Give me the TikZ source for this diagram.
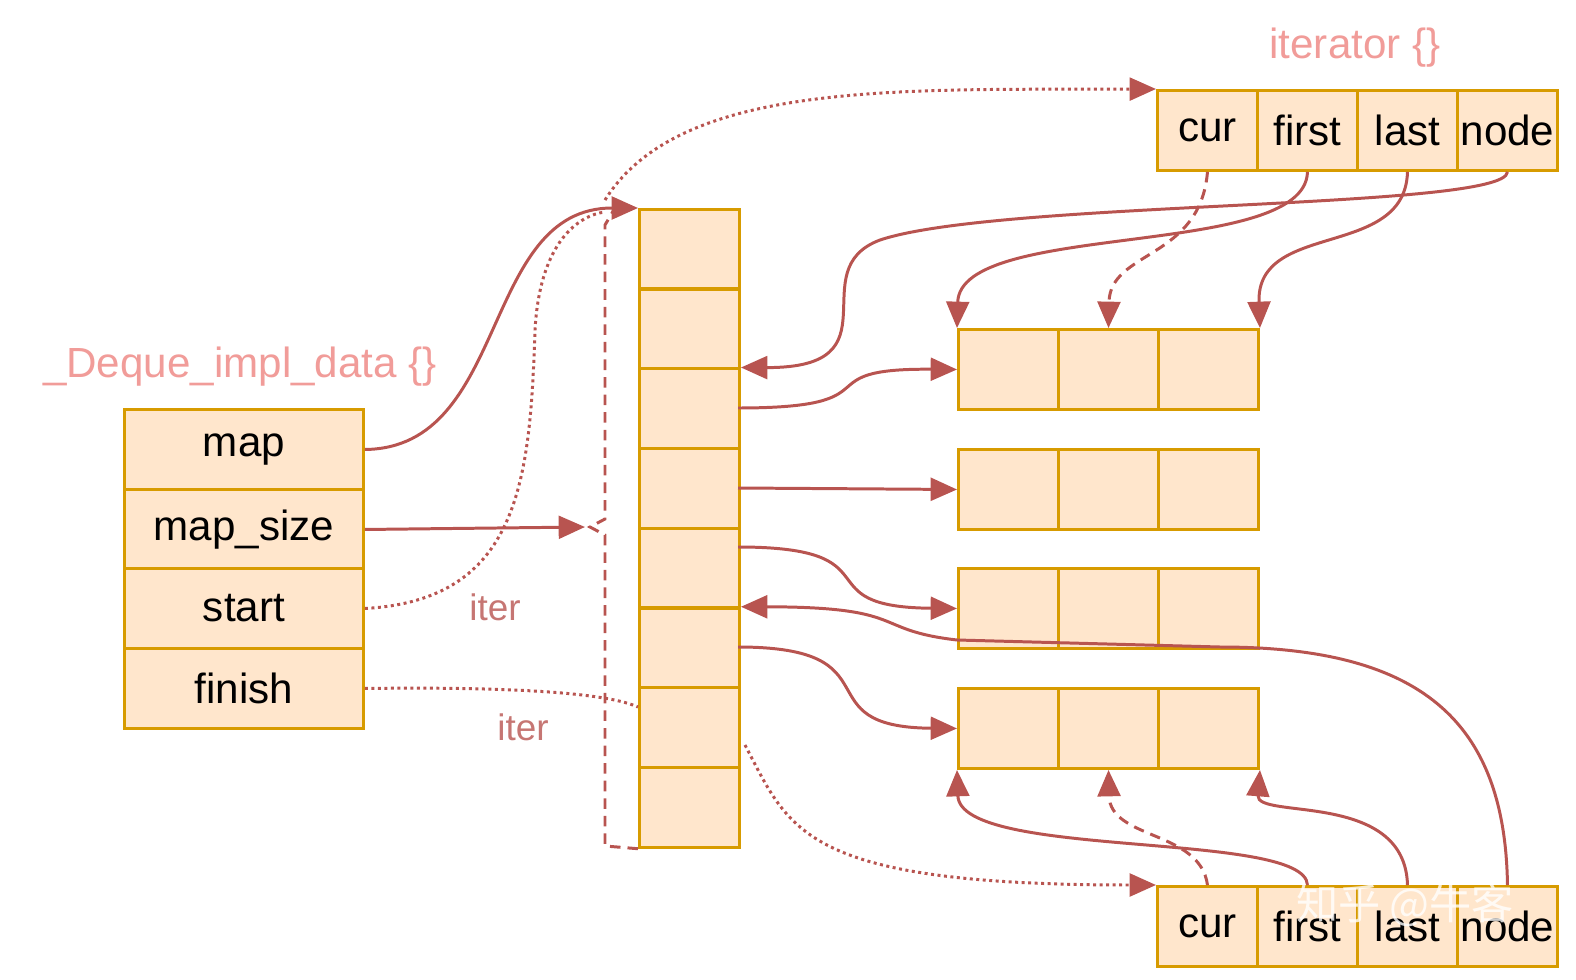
\documentclass[tikz,border=0pt]{standalone}
\usepackage{fontspec}
\setmainfont{Liberation Sans}
\newfontfamily\cjk{Noto Sans CJK SC}
\usetikzlibrary{arrows.meta}
\definecolor{fillc}{HTML}{FFE6CC}
\definecolor{strokec}{HTML}{D79B00}
\definecolor{linec}{HTML}{B85450}
\definecolor{pinkc}{HTML}{F19C99}
\begin{document}
\begin{tikzpicture}[x=0.02cm,y=-0.02cm,
  cell/.style={draw=strokec,fill=fillc,line width=1.7pt,minimum width=2cm,minimum height=1.6cm,inner sep=0pt,anchor=north west,font=\fontsize{24}{26}\selectfont},
  wcell/.style={cell,minimum width=4.78cm},
  con/.style={draw=linec,line width=1.7pt,-{Triangle[length=15pt,width=13pt]}},
  lab/.style={text=pinkc,font=\fontsize{24}{26}\selectfont},
  ilab/.style={text=linec!80,font=\fontsize{21}{24}\selectfont}]
\useasboundingbox (0,0) rectangle (1576,980);
% left struct
\node[wcell] (map) at (123,408) {map};
\node[wcell] (msize) at (123,488) {map\_size};
\node[wcell] (start) at (123,567) {start};
\node[wcell] (finish) at (123,647) {finish};
\node[lab] (dlab) at (240,367) {\_Deque\_impl\_data \{\}};
% map column
\foreach \i in {0,...,7}{\node[cell,minimum height=1.59cm] (m\i) at (638,208+79.75*\i) {};}
% buffers
\foreach \r/\y in {1/328,2/448,3/567,4/687}{
 \foreach \c in {0,1,2}{\node[cell] (b\r\c) at (957+100*\c,\y) {};}}
% iterators
\foreach \n/\t [count=\c from 0] in {cur/cur,first/first,last/last,node/node}{
 \node[cell] (t\n) at (1156+100*\c,89) {\t};
 \node[cell] (u\n) at (1156+100*\c,885) {\t};}
\node[lab] (ilab) at (1355,48) {iterator \{\}};
% coordinates
\coordinate (brk) at (585,527);
\coordinate (mtop) at (638,208);
% connectors
\draw[con] (map.east) .. controls (510,448) and (480,208) .. (mtop);
\draw[con] (msize.east) -- (brk);
\draw[linec,line width=1.7pt,dash pattern=on 6pt off 4pt] (m7.south west) -- (605,846) -- (605,535) -- (590,527) -- (605,519) -- (605,225) -- (615,208);
\draw[linec,line width=1.7pt,dotted] (start.east) .. controls (520,600) and (530,480) .. (535,330) .. controls (540,240) and (580,215) .. (605,212);
\node[ilab] (it1) at (495,607) {iter};
\draw[linec,line width=1.7pt,dotted] (finish.east) .. controls (480,687) and (600,690) .. (638,707);
\node[ilab] (it2) at (523,727) {iter};
\draw[con,dotted] (605,200) .. controls (680,80) and (900,90) .. (tcur.north west);
\draw[con,dotted] (745,745) .. controls (790,830) and (800,885) .. (ucur.north west);
% top iterator
\draw[con] (tnode.south) .. controls (1505,210) and (1000,200) .. (880,240) .. controls (800,270) and (900,368) .. (m2.north east);
\draw[con,dash pattern=on 6pt off 4pt] (tcur.south) .. controls (1200,260) and (1110,250) .. (b11.north);
\draw[con] (tfirst.south) .. controls (1305,260) and (960,220) .. (b10.north west);
\draw[con] (tlast.south) .. controls (1405,260) and (1256,220) .. (b12.north east);
% map to buffers
\draw[con] (738,408) .. controls (900,408) and (800,368) .. (b10.west);
\draw[con] (738,488) -- (b20.west);
\draw[con] (738,547) .. controls (900,547) and (800,607) .. (b30.west);
\draw[con] (738,647) .. controls (900,647) and (800,727) .. (b40.west);
\draw[con] (unode.north) .. controls (1505,720) and (1420,647) .. (1220,647) -- (957,640) .. controls (870,630) and (910,607) .. (m5.north east);
% bottom iterator
\draw[con] (ufirst.north) .. controls (1305,830) and (960,860) .. (b40.south west);
\draw[con,dash pattern=on 6pt off 4pt] (ucur.north) .. controls (1200,830) and (1110,840) .. (b41.south);
\draw[con] (ulast.north) .. controls (1405,790) and (1256,820) .. (b42.south east);
\node[text=white,opacity=0.8,font=\cjk\fontsize{24}{26}\selectfont] (wm) at (1405,905) {知乎 @牛客};
\end{tikzpicture}
\end{document}
